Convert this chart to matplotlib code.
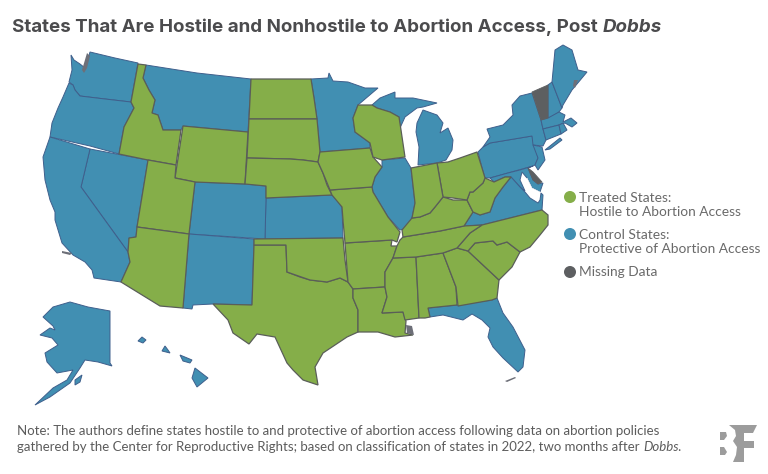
import matplotlib
matplotlib.use("Agg")
from matplotlib import pyplot as plt
from matplotlib.patches import Polygon

# state outlines (pixel positions)
WA = [(71,55),(74,60),(80,64),(85,68),(87,62),(90,52),(115,58),(138,63),(131,102),(105,99),(80,96),(75,90),(73,85),(69,82),(72,70)]
OR = [(69,83),(73,85),(75,90),(80,96),(105,99),(131,102),(134,108),(124,127),(119,154),(90,146),(50,137),(52,123),(58,108),(63,97)]
ID = [(138,64),(146,65),(143,78),(149,90),(155,100),(152,113),(158,115),(163,130),(181,130),(176,165),(148,160),(119,154),(124,127),(134,108),(131,102)]
MT = [(146,65),(197,73),(251,79),(248,132),(183,126),(181,130),(163,130),(158,115),(152,113),(155,100),(149,90),(143,78)]
WY = [(183,126),(248,132),(245,184),(195,182),(175,178)]
ND = [(251,79),(311,79),(314,98),(317,119),(249,119)]
SD = [(249,119),(317,119),(320,152),(318,162),(303,160),(290,159),(247,158)]
NE = [(247,158),(290,159),(303,160),(318,162),(323,173),(327,185),(332,195),(266,198),(266,186),(245,184)]
KS = [(266,198),(332,195),(337,200),(342,207),(343,238),(265,239)]
CO = [(195,182),(245,184),(266,186),(266,198),(265,239),(189,234)]
NM = [(189,234),(254,239),(252,305),(213,304),(193,305),(192,309),(183,308)]
UT = [(148,160),(176,165),(175,178),(195,182),(189,234),(137,227)]
AZ = [(137,227),(189,234),(183,308),(160,306),(121,282),(130,262),(128,252),(129,238),(136,237)]
NV = [(90,149),(148,160),(137,227),(136,237),(129,238),(128,252),(81,187)]
CA = [(50,137),(90,149),(81,187),(128,252),(130,262),(121,282),(94,278),(92,270),(85,262),(73,255),(62,243),(55,220),(55,212),(50,200),(45,180),(43,157)]
TX = [(254,245),(286,245),(287,272),(300,277),(310,280),(327,282),(340,278),(348,282),(353,289),(353,298),(358,310),(358,332),(347,337),(323,353),(315,367),(318,385),(303,380),(293,370),(287,363),(275,337),(257,334),(249,344),(233,333),(228,320),(213,304),(252,305)]
OK = [(254,239),(343,238),(345,260),(348,282),(340,278),(327,282),(310,280),(287,272),(286,245),(254,245)]
AR = [(345,243),(392,240),(391,246),(397,246),(393,258),(385,272),(385,287),(353,289),(348,282)]
LA = [(353,289),(385,287),(387,297),(382,313),(403,312),(406,321),(405,333),(413,335),(395,337),(378,332),(358,332),(358,310),(353,298)]
MS = [(393,258),(416,257),(419,318),(405,320),(403,312),(382,313),(387,297),(385,287),(385,272)]
AL = [(416,257),(443,253),(456,287),(457,305),(428,308),(430,317),(425,318),(419,318)]
GA = [(443,253),(457,248),(468,251),(499,280),(497,298),(492,300),(458,306),(456,287)]
SC = [(468,251),(475,243),(493,241),(497,245),(507,242),(520,252),(512,267),(499,280)]
NC = [(482,225),(542,210),(548,215),(548,225),(540,235),(530,247),(520,252),(507,242),(497,245),(493,241),(475,243),(468,251),(457,248),(470,233)]
TN = [(403,237),(440,231),(464,226),(482,225),(470,233),(457,248),(443,253),(416,257),(393,258),(397,246),(400,240)]
KY = [(402,230),(412,218),(420,217),(430,213),(435,207),(443,197),(453,200),(467,200),(473,212),(464,226),(440,231),(403,237)]
VA = [(464,226),(473,212),(480,215),(490,212),(495,198),(503,187),(511,177),(520,187),(525,192),(530,198),(538,203),(540,200),(541,193),(543,195),(542,210),(482,225)]
WV = [(485,178),(494,182),(505,177),(511,177),(503,187),(495,198),(490,212),(480,215),(473,212),(467,200),(470,192),(473,192),(483,183)]
OH = [(437,163),(448,162),(460,158),(477,152),(482,168),(485,178),(483,183),(473,192),(470,192),(467,200),(453,198),(443,197)]
IN = [(411,168),(437,163),(443,197),(435,207),(430,213),(420,217),(412,218),(415,203)]
IL = [(382,160),(405,158),(411,168),(415,203),(412,218),(408,228),(400,230),(388,217),(373,192),(372,187),(375,177),(382,167)]
MO = [(330,190),(372,187),(373,192),(388,217),(400,232),(397,242),(392,240),(345,243),(343,220),(342,207),(332,195)]
IA = [(320,152),(370,148),(373,157),(382,167),(375,177),(372,187),(330,190),(323,173),(318,162)]
MN = [(311,79),(328,78),(329,73),(333,81),(348,82),(365,88),(378,88),(358,105),(353,118),(355,132),(370,143),(370,148),(320,152),(317,119),(314,98)]
WI = [(358,105),(372,105),(377,108),(390,112),(399,117),(401,130),(405,157),(382,160),(373,157),(370,143),(355,132),(353,118)]
MI_UP = [(372,105),(380,98),(395,92),(395,98),(413,98),(437,103),(423,107),(417,108),(405,117),(400,128),(399,117),(390,112),(377,108)]
MI_LOW = [(418,165),(419,147),(416,132),(417,123),(423,110),(437,115),(443,123),(440,133),(448,128),(453,140),(452,150),(446,160),(437,163)]
PA = [(478,152),(483,147),(490,143),(532,136),(535,145),(538,158),(535,165),(533,166),(490,178),(485,178),(482,168)]
NY = [(483,147),(490,137),(487,129),(503,125),(513,115),(512,105),(520,96),(532,93),(541,120),(543,129),(546,140),(543,146),(533,145),(532,136),(490,143)]
LI = [(545,150),(560,138),(562,140),(550,149)]
NJ = [(533,145),(542,147),(545,160),(538,170),(535,165),(538,158)]
VT = [(532,92),(548,85),(548,118),(541,120)]
NH = [(548,85),(552,82),(562,108),(559,112),(550,118),(548,118)]
ME = [(552,82),(555,50),(563,45),(572,50),(578,70),(587,72),(572,90),(563,105),(562,108)]
ME_PATCH = [(574,80),(578,80),(575,88),(573,86)]
MA = [(541,120),(548,118),(559,112),(565,115),(563,122),(571,118),(577,123),(572,127),(565,123),(559,125),(543,129)]
CT = [(543,129),(559,125),(561,134),(546,140)]
RI = [(559,125),(563,123),(567,130),(561,134)]
DE = [(528,168),(533,172),(542,182),(538,184),(533,180)]
MD = [(490,178),(508,173),(520,170),(533,166),(528,168),(533,180),(538,184),(543,183),(540,192),(532,188),(527,178),(522,172),(520,180),(525,191),(520,187),(511,177),(505,177),(494,182)]
FL = [(428,308),(457,305),(492,300),(497,298),(503,313),(513,327),(525,350),(523,367),(518,372),(503,358),(493,347),(488,337),(490,328),(482,320),(472,314),(463,320),(455,318),(443,315),(430,317)]
AK = [(70,302),(88,307),(110,311),(110,363),(112,366),(98,362),(85,360),(80,368),(70,383),(50,397),(35,405),(53,388),(67,380),(73,370),(57,373),(47,362),(45,353),(58,345),(52,338),(40,335),(50,328),(55,330),(53,326),(43,317),(53,307)]
AK_KODIAK = [(82,375),(80,382),(75,385),(75,380)]
HI_BIG = [(195,368),(208,378),(197,387),(192,378)]
HI_MAUI = [(180,355),(192,360),(190,363),(183,361)]
HI_OAHU = [(165,346),(168,350),(170,353),(162,351)]
HI_KAUAI = [(142,337),(146,340),(143,343),(138,341)]
BAY = [(527,178),(532,188),(540,192),(538,200),(534,197),(528,190),(525,183)]
PUGET = [(87,53),(90,56),(87,68),(84,73),(82,70)]
KEYS = [(505,381),(515,377),(516,378),(507,382)]
DELTA = [(406,325),(412,326),(414,335),(407,333)]
CHANNEL = [(62,251),(72,253),(70,255),(62,253)]

treated = [ID, WY, ND, SD, NE, UT, AZ, TX, OK, AR, LA, MS, AL, GA, SC, NC, TN, KY, WV, OH, IN, MO, IA, WI]
control = [WA, OR, MT, KS, CO, NM, NV, CA, IL, MN, MI_UP, MI_LOW, PA, NY, LI, NJ, NH, ME, MA, CT, RI, MD, VA, FL,
           AK, AK_KODIAK, HI_BIG, HI_MAUI, HI_OAHU, HI_KAUAI]
missing = [VT, DE]
specks = [ME_PATCH, PUGET, KEYS, DELTA, CHANNEL]

# logo pieces
LOGO_F = [(729,425),(757,425),(753,433),(744,433),(744,441),(754,441),(754,448),(744,448),(744,462),(733,462),(736,455),(737,447),(733,441),(736,436),(735,430)]
LOGO_B1 = [(720,432),(726,432),(727,436),(724,440),(720,440)]
LOGO_B2 = [(720,447),(724,447),(727,452),(725,455),(720,455)]

title_start = "States That Are Hostile and Nonhostile to Abortion Access, Post "
legend_labels = ["Treated States:\nHostile to Abortion Access",
                 "Control States:\nProtective of Abortion Access",
                 "Missing Data"]
note_1 = "Note: The authors define states hostile to and protective of abortion access following data on abortion policies"
note_2 = "gathered by the Center for Reproductive Rights; based on classification of states in 2022, two months after "

GREEN = "#85ae49"
BLUE = "#418fb2"
GREY = "#5d5f61"

fig = plt.figure(figsize=(7.68, 4.74), dpi=100)
ax = fig.add_axes([0, 0, 1, 1])
ax.set_xlim(0, 768)
ax.set_ylim(474, 0)
ax.axis("off")

for shape in control:
    ax.add_patch(Polygon(shape, facecolor=BLUE, edgecolor="#3f5f8c", linewidth=0.7))
for shape in treated:
    ax.add_patch(Polygon(shape, facecolor=GREEN, edgecolor="#5a5e58", linewidth=0.9))
for shape in missing:
    ax.add_patch(Polygon(shape, facecolor=GREY, edgecolor=GREY, linewidth=0.6))
for shape in specks:
    ax.add_patch(Polygon(shape, facecolor="#6d6f78", edgecolor="none"))
ax.add_patch(Polygon(BAY, facecolor="white", edgecolor="white", linewidth=0.4))

for shape in [LOGO_F, LOGO_B1, LOGO_B2]:
    ax.add_patch(Polygon(shape, facecolor="#9c9c9c", edgecolor="none"))

# title
t = ax.text(12, 27, title_start, family="Inter", weight="bold", fontsize=13.5, color="#4b4b4d", va="center")
fig.canvas.draw()
box = t.get_window_extent().transformed(ax.transData.inverted())
ax.text(box.x1, 27, "Dobbs", family="Inter", weight="bold", style="italic", fontsize=13.5, color="#4b4b4d", va="center")

# legend
ax.scatter([570, 570, 570], [197, 234, 272], s=75, c=[GREEN, BLUE, GREY], linewidths=0)
ax.text(579, 205, legend_labels[0], family="Lato", fontsize=9.9, color="#6a6a6a", va="center", linespacing=1.25)
ax.text(579, 242, legend_labels[1], family="Lato", fontsize=9.9, color="#6a6a6a", va="center", linespacing=1.25)
ax.text(579, 272, legend_labels[2], family="Lato", fontsize=9.9, color="#6a6a6a", va="center")

# note
ax.text(17, 431, note_1, family="Lato", fontsize=9.5, color="#5c5c5c", va="center")
n = ax.text(17, 447, note_2, family="Lato", fontsize=9.5, color="#5c5c5c", va="center")
fig.canvas.draw()
box = n.get_window_extent().transformed(ax.transData.inverted())
ax.text(box.x1, 447, "Dobbs.", family="Lato", style="italic", fontsize=9.5, color="#5c5c5c", va="center")

fig.savefig("out.png", dpi=100)
